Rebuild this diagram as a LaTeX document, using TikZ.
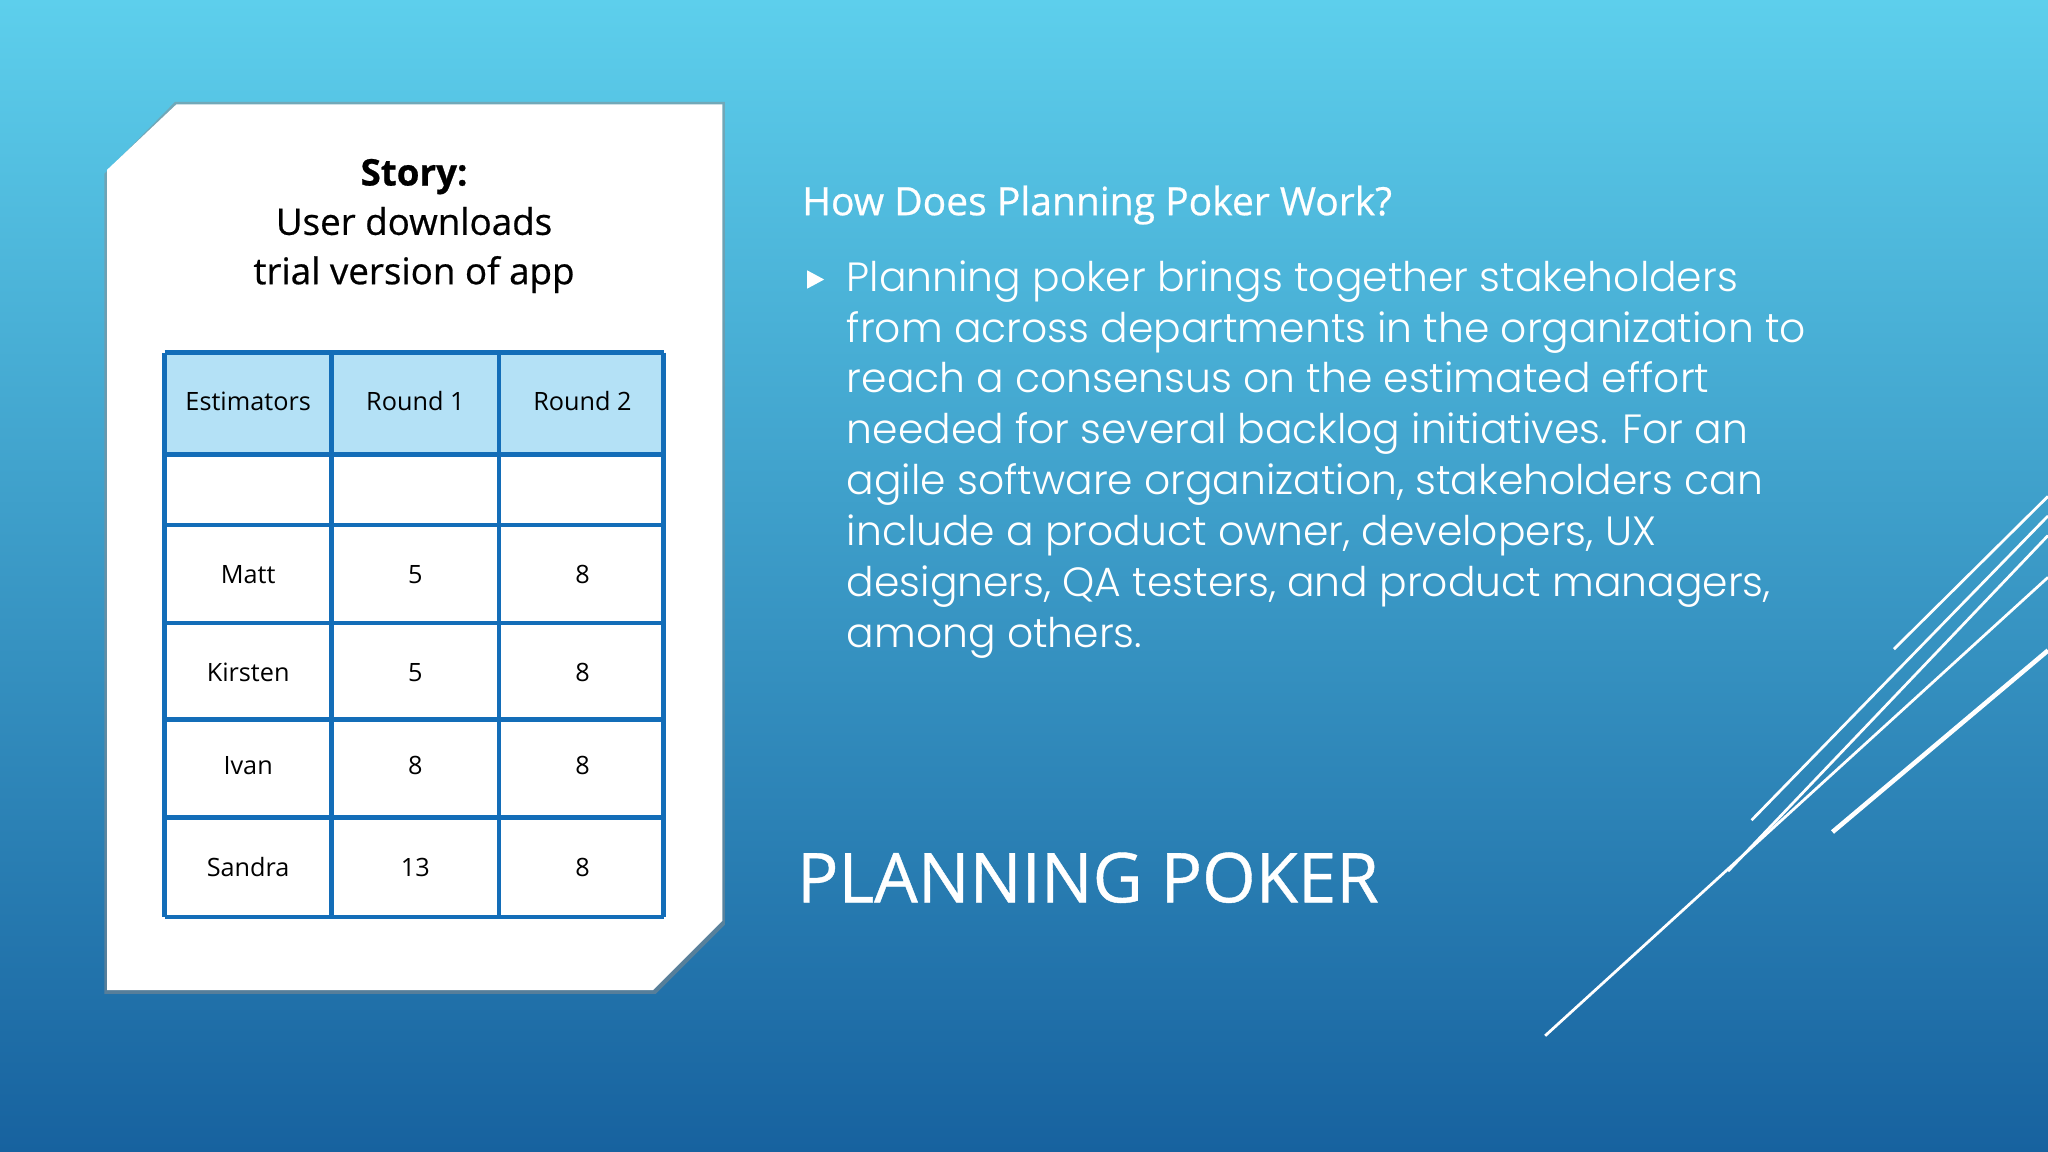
\documentclass[tikz,border=0pt]{standalone}
\usepackage{fontspec}
\setmainfont{Open Sans}
\newfontfamily\bodyfont{Poppins Light}
\newfontfamily\semifont[FakeBold=0.6]{Open Sans}
\usetikzlibrary{positioning}
\definecolor{skytop}{HTML}{5DCFEC}
\definecolor{skybot}{HTML}{17629F}
\definecolor{gridblue}{HTML}{136DB8}
\definecolor{headblue}{HTML}{B4E1F6}
\tikzset{
  cell/.style={font=\fontsize{11}{13}\selectfont, text=black},
  deco/.style={white, line width=1.2pt}
}
\begin{document}
\begin{tikzpicture}[x=0.02cm, y=-0.02cm]
  % background
  \shade[top color=skytop, bottom color=skybot] (0,0) rectangle (1568,882);
  \useasboundingbox (0,0) rectangle (1568,882);

  % card
  \fill[black!45, opacity=0.5] (80,133) -- (134,78) -- (555,78) -- (555,708) -- (502,761) -- (80,761) -- cycle;
  \fill[white] (82,130) -- (135,80) -- (553,80) -- (553,705) -- (500,758) -- (82,758) -- cycle;
  \node[align=center, font=\semifont\fontsize{16}{21.5}\selectfont] (story) at (317,173)
    {\textbf{Story:}\\User downloads\\trial version of app};

  % table
  \fill[headblue] (126,270) rectangle (508,348);
  \foreach \x in {126,254,382,508}
    \draw[gridblue, line width=2pt] (\x,270) -- (\x,702);
  \foreach \y in {270,348,402,477,551,626,702}
    \draw[gridblue, line width=2pt] (126,\y) -- (508,\y);
  \node[cell] (h1) at (190,307) {Estimators};
  \node[cell] (h2) at (318,307) {Round 1};
  \node[cell] (h3) at (446,307) {Round 2};
  \foreach \n/\a/\b/\y in {Matt/5/8/440, Kirsten/5/8/515, Ivan/8/8/586, Sandra/13/8/664} {
    \node[cell] at (190,\y) {\n};
    \node[cell] at (318,\y) {\a};
    \node[cell] at (446,\y) {\b};
  }

  % text
  \node[anchor=west, white, font=\semifont\fontsize{17}{20}\selectfont] (head) at (608,157)
    {How Does Planning Poker Work?};
  \fill[white] (618,207) -- (631,214) -- (618,221) -- cycle;
  \node[anchor=north west, align=left, white, inner sep=0pt,
        font=\bodyfont\fontsize{17.8}{22.2}\selectfont] (body) at (648,199)
    {Planning poker brings together stakeholders\\
     from across departments in the organization to\\
     reach a consensus on the estimated effort\\
     needed for several backlog initiatives. For an\\
     agile software organization, stakeholders can\\
     include a product owner, developers, UX\\
     designers, QA testers, and product managers,\\
     among others.};
  \node[anchor=west, white, font=\semifont\fontsize{30}{34}\selectfont] (title) at (604,672)
    {PLANNING POKER};

  % decorative lines
  \draw[deco] (1183,793) -- (1568,442);
  \draw[deco] (1323,667) -- (1568,410);
  \draw[deco] (1341,628) -- (1568,395);
  \draw[deco] (1450,497) -- (1568,380);
  \draw[deco, line width=2pt] (1403,637) -- (1568,498);
\end{tikzpicture}
\end{document}
